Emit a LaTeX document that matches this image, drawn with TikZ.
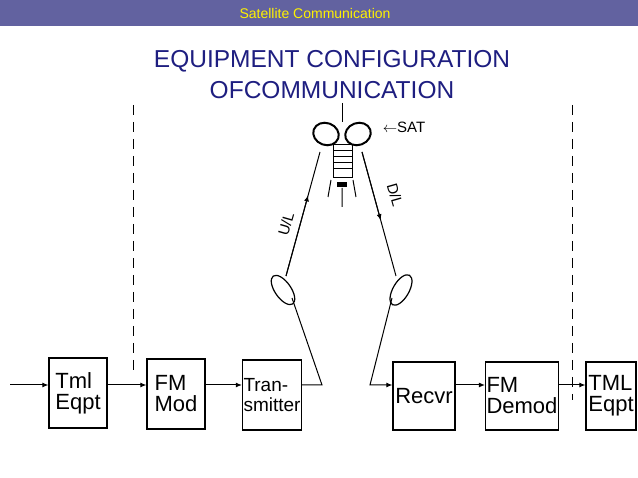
\documentclass[tikz,border=0pt]{standalone}
\usepackage{fontspec}
\setmainfont{Liberation Sans}
\usetikzlibrary{arrows.meta,shapes.geometric,calc}
\definecolor{bar}{HTML}{6262A0}
\definecolor{ttl}{HTML}{1E1E80}
\begin{document}
\begin{tikzpicture}[x=1pt,y=-1pt,
  blk/.style={draw,line width=1.2pt,minimum width=58pt,minimum height=70pt,inner sep=1pt,font=\fontsize{22}{21}\selectfont,align=left},
  con/.style={line width=1pt,-{Latex[length=6pt,width=5pt]}},
  wire/.style={line width=1pt},
  dsh/.style={line width=1pt,dash pattern=on 10pt off 7pt}]
\useasboundingbox (0,0) rectangle (638,478);
\fill[bar] (0,0) rectangle (638,26);
\node[text=yellow,font=\fontsize{14}{14}\selectfont] (hd) at (315,14) {Satellite Communication};
\node[text=ttl,font=\fontsize{24.5}{24}\selectfont] (t1) at (332,61) {EQUIPMENT CONFIGURATION};
\node[text=ttl,font=\fontsize{24.5}{24}\selectfont] (t2) at (332,90) {OFCOMMUNICATION};
% boxes
\node[blk] (tml) at (78,393) {Tml\\Eqpt};
\node[blk] (fm) at (176,394) {FM\\Mod};
\node[blk,font=\fontsize{19}{20}\selectfont] (tx) at (272,395) {Tran-\\smitter};
\node[blk,minimum width=62pt,minimum height=68pt] (rx) at (424,396) {Recvr};
\node[blk,minimum width=66pt,minimum height=68pt] (fmd) at (522,396) {FM\\Demod};
\node[blk,minimum width=50pt,minimum height=68pt] (tml2) at (611,396) {TML\\Eqpt};
\coordinate (in) at (10,385);
\draw[con] (in) -- (tml.west|-in);
\draw[con] (tml.east|-in) -- (fm.west|-in);
\draw[con] (fm.east|-in) -- (tx.west|-in);
\draw[con] (rx.east|-in) -- (fmd.west|-in);
\draw[con] (fmd.east|-in) -- (tml2.west|-in);
% dashed
\draw[dsh] (133,105) -- (133,372);
\draw[dsh] (572,105) -- (572,400);
% antennas
\node[draw,line width=1.2pt,ellipse,minimum width=16pt,minimum height=34pt,rotate=35,inner sep=0] (a1) at (283,290) {};
\node[draw,line width=1.2pt,ellipse,minimum width=16pt,minimum height=34pt,rotate=-30,inner sep=0] (a2) at (401,290) {};
\coordinate (txo) at (322,385);
\coordinate (rxo) at (370,385);
\draw[wire] (tx.east|-in) -- (txo) -- (292,298);
\draw[con] (392,298) -- (rxo) -- (rx.west|-in);
% satellite
\draw[line width=1pt] (342,103) -- (342,122);
\node[draw,line width=2pt,ellipse,minimum width=26pt,minimum height=22pt,rotate=-20,inner sep=0] (d1) at (326,134) {};
\node[draw,line width=2pt,ellipse,minimum width=26pt,minimum height=22pt,rotate=20,inner sep=0] (d2) at (358,134) {};
\draw[line width=1pt] (333,145) rectangle (352,178);
\foreach \y in {151,157,163,169} \draw[line width=1pt] (333,\y) -- (352,\y);
\fill (337,182) rectangle (347,187);
\draw[line width=1pt] (342,188)--(342,207) (331,180)--(328,197) (353,180)--(356,197);
\node[font=\fontsize{15}{15}\selectfont] (sat) at (404,127) {$\leftarrow$SAT};
% links
\coordinate (u1) at (286,276); \coordinate (u2) at (320,152);
\coordinate (d1a) at (362,152); \coordinate (d2a) at (396,276);
\draw[wire] (u1) -- (u2);
\draw[line width=1pt,-{Latex[length=6pt,width=5pt]}] (u1) -- ($(u1)!0.65!(u2)$);
\draw[wire] (d1a) -- (d2a);
\draw[line width=1pt,-{Latex[length=6pt,width=5pt]}] (d1a) -- ($(d1a)!0.55!(d2a)$);
\node[font=\fontsize{15}{15}\selectfont,rotate=74] (ul) at (286,224) {U/L};
\node[font=\fontsize{15}{15}\selectfont,rotate=-74] (dl) at (395,195) {D/L};
\end{tikzpicture}
\end{document}
